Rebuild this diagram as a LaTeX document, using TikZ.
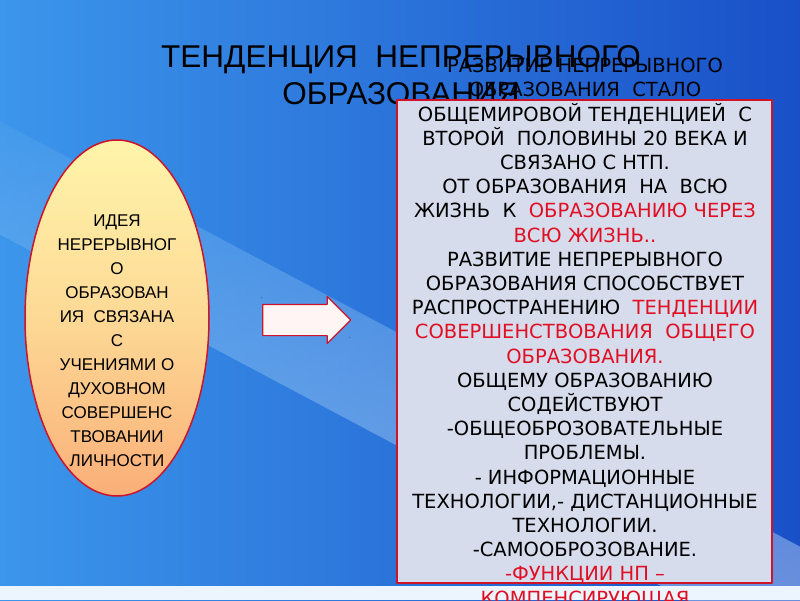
\documentclass[tikz,border=0pt]{standalone}
\usepackage{fontspec}
\setmainfont{DejaVu Sans}
\newfontfamily\titlefont{Liberation Sans}
\usetikzlibrary{shapes.geometric, shapes.arrows, positioning}
\definecolor{skyblue}{RGB}{60, 150, 235}
\definecolor{deepblue}{RGB}{25, 80, 200}
\definecolor{boxfill}{RGB}{214, 220, 236}
\definecolor{boxred}{RGB}{205, 20, 40}
\definecolor{textred}{RGB}{225, 15, 35}
\definecolor{ovaltop}{RGB}{255, 245, 170}
\definecolor{ovalbot}{RGB}{250, 175, 120}

\begin{document}
\begin{tikzpicture}[x=1pt, y=-1pt, line join=round,
    bodytext/.style={font=\fontsize{19.5}{24.2}\selectfont, align=center, inner sep=0pt},
    idea/.style={ellipse, draw=boxred, line width=1.5pt, minimum width=184pt, minimum height=356pt,
      top color=ovaltop, bottom color=ovalbot, middle color=ovaltop!60!ovalbot},
    blockarrow/.style={single arrow, draw=boxred, line width=1.2pt, fill=white!85!pink,
      minimum height=88pt, inner sep=15pt, single arrow head extend=8pt}]
  \useasboundingbox (0,0) rectangle (800,600);
  \clip (0,0) rectangle (800,600);

  % -- Background --
  \shade[left color=skyblue, right color=deepblue] (0,0) rectangle (800,600);
  \shade[top color=skyblue, bottom color=white, opacity=0.4, rotate around={-28:(400,300)}]
    (-200,330) rectangle (1000,430);
  \fill[white!90!skyblue] (0,586) rectangle (800,600);

  % -- Title --
  \node[font=\titlefont\fontsize{31.5}{37}\selectfont, align=center, inner sep=0pt] (title) at (401,75)
    {ТЕНДЕНЦИЯ~~НЕПРЕРЫВНОГО\\ОБРАЗОВАНИЯ};

  % -- Text box --
  \draw[boxred, line width=1.2pt, fill=boxfill] (397,100) rectangle (772,583);
  \node[bodytext, anchor=north] (info) at (585,58)
    {РАЗВИТИЕ НЕПРЕРЫВНОГО\\
     ОБРАЗОВАНИЯ~~СТАЛО\\
     ОБЩЕМИРОВОЙ ТЕНДЕНЦИЕЙ~~С\\
     ВТОРОЙ~~ПОЛОВИНЫ 20 ВЕКА И\\
     СВЯЗАНО С НТП.\\
     ОТ ОБРАЗОВАНИЯ~~НА~~ВСЮ\\
     ЖИЗНЬ~~К~~\textcolor{textred}{ОБРАЗОВАНИЮ ЧЕРЕЗ}\\
     \textcolor{textred}{ВСЮ ЖИЗНЬ..}\\
     РАЗВИТИЕ НЕПРЕРЫВНОГО\\
     ОБРАЗОВАНИЯ СПОСОБСТВУЕТ\\
     РАСПРОСТРАНЕНИЮ~~\textcolor{textred}{ТЕНДЕНЦИИ}\\
     \textcolor{textred}{СОВЕРШЕНСТВОВАНИЯ~~ОБЩЕГО}\\
     \textcolor{textred}{ОБРАЗОВАНИЯ.}\\
     ОБЩЕМУ ОБРАЗОВАНИЮ\\
     СОДЕЙСТВУЮТ\\
     -ОБЩЕОБРОЗОВАТЕЛЬНЫЕ\\
     ПРОБЛЕМЫ.\\
     - ИНФОРМАЦИОННЫЕ\\
     ТЕХНОЛОГИИ,- ДИСТАНЦИОННЫЕ\\
     ТЕХНОЛОГИИ.\\
     -САМООБРОЗОВАНИЕ.\\
     \textcolor{textred}{-ФУНКЦИИ НП –}\\
     \textcolor{textred}{КОМПЕНСИРУЮЩАЯ}};

  % -- Oval and arrow --
  \node[idea] (idea) at (117,318) {};
  \node[font=\titlefont\fontsize{17}{24}\selectfont, align=center, inner sep=0pt] (ideatext) at (117,341)
    {ИДЕЯ\\НЕРЕРЫВНОГ\\О\\ОБРАЗОВАН\\ИЯ~~СВЯЗАНА\\С\\УЧЕНИЯМИ О\\ДУХОВНОМ\\СОВЕРШЕНС\\ТВОВАНИИ\\ЛИЧНОСТИ};
  \node[blockarrow] (arrow) at (299,320) {};
  \node[font=\tiny] (dotl) at (262,298) {.};
  \node[font=\tiny] (dotr) at (350,338) {.};
\end{tikzpicture}
\end{document}
